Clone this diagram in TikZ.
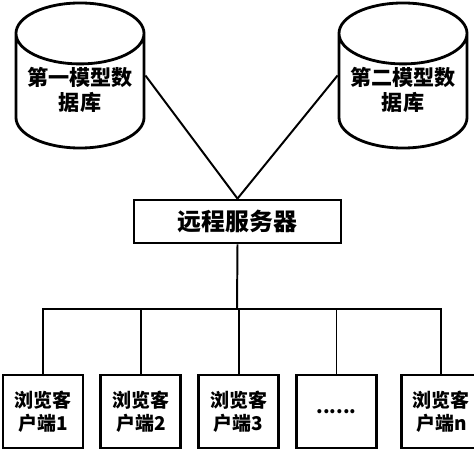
\documentclass[tikz,border=0pt]{standalone}
\usepackage{fontspec}
\setmainfont{Noto Sans CJK SC}
\usetikzlibrary{shapes.geometric, positioning}
\tikzset{
    database/.style={cylinder, shape border rotate=90, draw, line width=2pt, aspect=6.5, minimum width=3.2cm, minimum height=3.625cm, anchor=shape center},
    dbtext/.style={align=center, font=\fontsize{15}{17.5}\selectfont\bfseries},
    server/.style={rectangle, draw, line width=2pt, minimum width=5.175cm, minimum height=1.075cm, font=\fontsize{17}{20}\selectfont\bfseries},
    client/.style={rectangle, draw, line width=2pt, minimum width=2cm, minimum height=1.825cm, align=center, font=\fontsize{13.5}{16.5}\selectfont\bfseries},
    link/.style={line width=1.4pt}
}
\begin{document}
\begin{tikzpicture}[x=0.025cm, y=-0.025cm, node distance=0.375cm]
        \useasboundingbox (0,0) rectangle (474,452);

        % Databases
        \node (DB1) [database] at (80,75.5) {};
        \node (DB1_label) [dbtext] at ([yshift=-0.36cm]DB1.shape center) {第一模型数\\据库};
        \node (DB2) [database] at (403,75.5) {};
        \node (DB2_label) [dbtext] at ([yshift=-0.36cm]DB2.shape center) {第二模型数\\据库};

        % Remote server
        \node (Server) [server] at (237.5,221.5) {远程服务器};

        % Browser clients
        \node (Client1) [client] at (43,411.5) {浏览客\\户端1};
        \node (Client2) [client, right=of Client1] {浏览客\\户端2};
        \node (Client3) [client, right=of Client2] {浏览客\\户端3};
        \node (Client4) [client, right=of Client3] {......};
        \node (Client5) [client, right=0.55cm of Client4] {浏览客\\户端n};

        % Links
        \draw[link] (DB1.shape center -| DB1.east) -- (Server.north);
        \draw[link] (DB2.shape center -| DB2.west) -- (Server.north);
        \coordinate (Bus) at (237,309);
        \draw[link] (Server.south) -- (Bus);
        \draw[link] (Bus) -| (Client1.north);
        \draw[link] (Bus) -| (Client2.north);
        \draw[link] (Bus) -| (Client3.north);
        \draw[link] (Bus) -| (Client4.north);
        \draw[link] (Bus) -| (Client5.north);
    \end{tikzpicture}
\end{document}
